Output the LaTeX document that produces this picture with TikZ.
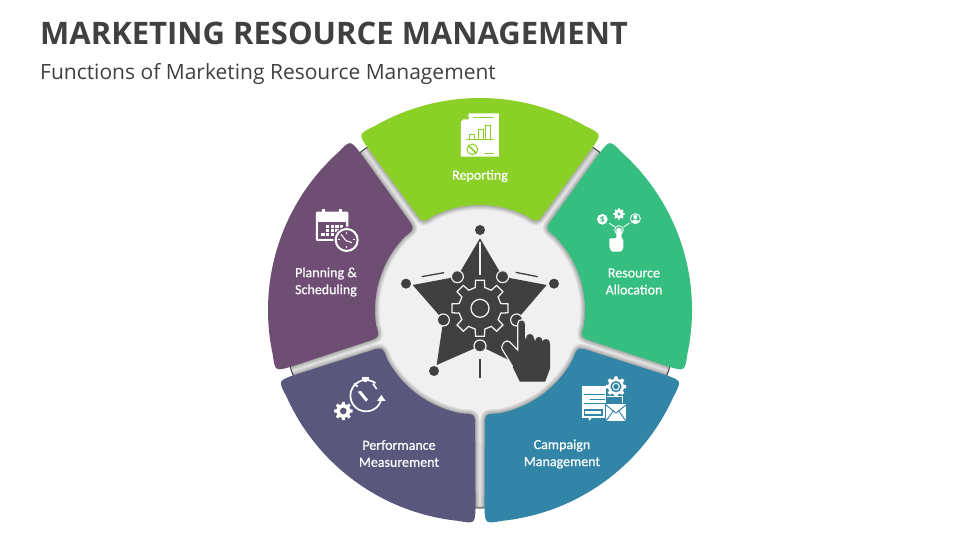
\documentclass[tikz,border=0pt]{standalone}
\usepackage{fontspec}
\setmainfont{Open Sans}
\newfontfamily\labelfont[RawFeature={embolden=.5}]{Carlito}
\usepackage{tikz}
\definecolor{inkgray}{HTML}{404040}
\definecolor{discgray}{HTML}{F0F0F0}
\definecolor{reportgreen}{HTML}{8BD027}
\definecolor{planpurple}{HTML}{6F4E74}
\definecolor{resourceteal}{HTML}{35BE80}
\definecolor{perfslate}{HTML}{5A577D}
\definecolor{campblue}{HTML}{3385A7}

% one ring piece between two boundary angles, rounded at its four corners
\newcommand{\petalpath}[2]{(#1+6:212) arc[start angle=#1+6, end angle=#2-6, radius=212] .. controls (#2-1.3:214) .. (#2-1.3:196) -- (#2-2.3:120) .. controls (#2-2.6:104) .. (#2-10:105) arc[start angle=#2-10, end angle=#1+10, radius=105] .. controls (#1+2.6:104) .. (#1+2.3:120) -- (#1+1.3:196) .. controls (#1+1.3:214) .. (#1+6:212) -- cycle}
\newcommand{\gearpath}[2]{(-13:#2) foreach \a in {0,45,...,315} { -- (\a-13:#2) -- (\a-9:#1) -- (\a+9:#1) -- (\a+13:#2) } -- cycle}

\begin{document}
\begin{tikzpicture}[x=1pt,y=1pt]
    \tikzstyle{label}=[text=white,font=\labelfont\fontsize{14}{17}\selectfont,align=center,inner sep=0pt]
    \tikzstyle{wht}=[fill=white,draw=none]
    \tikzstyle{hole}=[line width=1pt,line cap=round]
    \tikzstyle{dot}=[fill=inkgray,draw=none]
    \tikzstyle{ringdot}=[fill=inkgray,draw=discgray,line width=1.2pt]
    \useasboundingbox (0,0) rectangle (960,-540);

    \node[anchor=base west,inner sep=0pt,text=inkgray,font=\bfseries\fontsize{31}{31}\selectfont](title) at (40,-45){MARKETING RESOURCE MANAGEMENT};
    \node[anchor=base west,inner sep=0pt,text=inkgray,font=\fontsize{21}{21}\selectfont](subtitle) at (40,-80){Functions of Marketing Resource Management};

    % ring
    \begin{scope}[shift={(480,-310)}]
    \fill[discgray] (0,0) circle (198);
    \draw[inkgray,line width=1pt] (0,0) circle (198);
    \begin{scope}
    \clip (0,0) circle (197.5);
    \foreach \from/\to in {54/126,126/198,198/270,270/342,342/414}{
        \foreach \w in {9,6.5,4,2}{
            \draw[black,opacity=.08,line width=\w pt] \petalpath{\from}{\to};
        }
    }
    \end{scope}
    \fill[reportgreen] \petalpath{54}{126};
    \fill[planpurple] \petalpath{126}{198};
    \fill[perfslate] \petalpath{198}{270};
    \fill[campblue] \petalpath{270}{342};
    \fill[resourceteal] \petalpath{342}{414};
    \end{scope}

    \node[label](reporting) at (480,-176){Reporting};
    \node[label](planning) at (326,-282){Planning \&\\Scheduling};
    \node[label](resource) at (634,-281.5){Resource\\Allocation};
    \node[label](performance) at (399,-453.5){Performance\\Measurement};
    \node[label](campaign) at (562,-454){Campaign\\Management};

    % centre star
    \begin{scope}[shift={(370,-210)},x=.3333pt,y=-.3333pt]
    \fill[inkgray] (330,85) -- (398,200) -- (530,225) -- (440,330) -- (462,472) -- (330,408) -- (200,465) -- (220,330) -- (128,225) -- (262,200) -- cycle;
    \draw[discgray,line width=1.3pt] (330,95) -- (330,195);
    \foreach \x/\y in {330/60,108/221,552/221,192/483}{
        \fill[dot] (\x,\y) circle (15);
    }
    \foreach \x/\y in {262/200,398/200,220/330,440/330,330/408}{
        \draw[ringdot] (\x,\y) circle (18);
    }
    \draw[inkgray,line width=1.3pt] (155,200) -- (222,188);
    \draw[inkgray,line width=1.3pt] (437,187) -- (503,200);
    \draw[inkgray,line width=1.3pt] (330,448) -- (330,505);
    \draw[discgray,line width=1.3pt,shift={(330,295)}] \gearpath{85}{64};
    \draw[discgray,line width=1.3pt] (330,295) circle (27);
    \draw[inkgray,fill=inkgray,line width=.1pt] (395,415) .. controls (395,400) and (408,388) .. (418,395) -- (443,420) -- (443,342) .. controls (443,325) and (467,325) .. (467,342) -- (467,385) .. controls (470,368) and (490,368) .. (492,385) -- (495,395) .. controls (498,376) and (516,376) .. (518,395) .. controls (520,384) and (540,384) .. (540,402) -- (540,475) -- (525,515) -- (450,515) -- (428,470) -- cycle;
    \draw[discgray,line width=1.2pt] (395,415) .. controls (395,400) and (408,388) .. (418,395) -- (443,420) -- (443,342) .. controls (443,325) and (467,325) .. (467,342) -- (467,385);
    \draw[discgray,line width=1.2pt] (395,415) -- (428,470);
    \end{scope}

    % reporting icon
    \begin{scope}[shift={(350,-95)},x=.3333pt,y=-.3333pt]
    \fill[wht] (358,55) -- (447,55) -- (447,185) -- (333,185) -- (333,80) -- cycle;
    \fill[reportgreen] (340,73) -- (356,58) -- (356,73) -- cycle;
    \draw[reportgreen,hole] (370,68) -- (430,68);
    \draw[reportgreen,hole] (350,133) -- (430,133);
    \draw[reportgreen,hole] (360,133) rectangle (375,118);
    \draw[reportgreen,hole] (385,133) rectangle (400,105);
    \draw[reportgreen,hole] (407,133) rectangle (422,92);
    \draw[reportgreen,hole] (367,163) circle (16);
    \draw[reportgreen,hole,line width=1.6pt] (356,152) -- (378,174);
    \draw[reportgreen,hole] (405,175) -- (430,175);
    \end{scope}

    % planning icon
    \begin{scope}[shift={(260,-140)},x=.3333pt,y=-.3333pt]
    \fill[wht,rounded corners=1pt] (168,215) rectangle (265,303);
    \fill[wht] (185,207) rectangle (194,220);
    \fill[wht] (236,207) rectangle (245,220);
    \fill[planpurple] (175,245) rectangle (258,296);
    \foreach \x in {198,212,226,240}{
        \foreach \y in {254,267}{
            \fill[wht] (\x,\y) rectangle +(10,9);
        }
    }
    \foreach \x in {184,198,212}{
        \fill[wht] (\x,280) rectangle +(10,9);
    }
    \fill[planpurple] (260,300) circle (40);
    \draw[white,line width=2pt] (260,300) circle (33);
    \draw[white,line width=1pt] (260,275) -- (260,281) (260,319) -- (260,325) (235,300) -- (241,300) (279,300) -- (285,300);
    \draw[white,line width=1pt] (243,283) -- (258,302) -- (276,308);
    \end{scope}

    % resource icon
    \begin{scope}[shift={(540,-140)},x=.3333pt,y=-.3333pt]
    \fill[wht] (187,238) circle (16);
    \node[text=resourceteal,inner sep=0pt,font=\bfseries\fontsize{8}{8}\selectfont](dollar) at (187,238){\$};
    \fill[wht,shift={(237,222)}] \gearpath{17}{13};
    \fill[resourceteal] (237,222) circle (5);
    \draw[white,line width=.9pt] (286,236) circle (15);
    \fill[wht] (286,231) circle (6);
    \fill[wht] (275,246) .. controls (277,236) and (295,236) .. (297,246) .. controls (292,251) and (280,251) .. (275,246) -- cycle;
    \draw[white,line width=.9pt] (208,250) -- (225,261);
    \draw[white,line width=.9pt] (250,262) -- (268,249);
    \draw[white,line width=.8pt] (237,270) circle (13);
    \fill[wht,rounded corners=1pt] (229,272) .. controls (229,262) and (245,262) .. (245,272) -- (245,296) -- (250,298) -- (250,325) -- (243,335) -- (215,335) -- (208,322) -- (208,295) -- (229,295) -- cycle;
    \end{scope}

    % performance icon
    \begin{scope}[shift={(280,-345)},x=.3333pt,y=-.3333pt]
    \fill[wht,shift={(190,198)}] \gearpath{28}{21};
    \fill[perfslate] (190,198) circle (10);
    \fill[perfslate] (258,152) circle (54);
    \draw[white,line width=1.7pt,line cap=round] (305,157) arc[start angle=6, end angle=305, radius=47];
    \fill[wht] (247,96) rectangle (266,104);
    \fill[wht] (252,100) rectangle (261,110);
    \draw[white,line width=1.7pt] (279,116) -- (290,132);
    \draw[white,line width=1.7pt] (222,116) -- (233,125);
    \fill[wht] (233,140) -- (243,138) -- (264,164) -- (258,170) -- cycle;
    \fill[wht] (291,168) -- (304,150) -- (317,168) -- cycle;
    \end{scope}

    % campaign icon
    \begin{scope}[shift={(480,-345)},x=.3333pt,y=-.3333pt]
    \fill[wht] (305,122) rectangle (378,218);
    \fill[wht] (327,218) -- (336,218) -- (327,228) -- cycle;
    \fill[campblue] (312,193) rectangle (368,212);
    \fill[wht] (316,197) rectangle (364,208);
    \draw[campblue,hole] (312,150) -- (375,150) (330,163) -- (375,163) (312,177) -- (375,177);
    \fill[wht,shift={(408,125)}] \gearpath{31}{24};
    \fill[campblue] (408,125) circle (17);
    \draw[white,line width=1pt] (408,125) circle (10);
    \draw[white,line width=.9pt] (380,155) -- (428,155) -- (428,175);
    \fill[campblue] (374,173) rectangle (442,232);
    \fill[wht] (378,177) -- (438,177) -- (438,228) -- (378,228) -- cycle;
    \draw[campblue,hole] (378,180) -- (408,204) -- (438,180);
    \draw[campblue,hole] (378,228) -- (400,198) (438,228) -- (416,198);
    \end{scope}
\end{tikzpicture}
\end{document}
